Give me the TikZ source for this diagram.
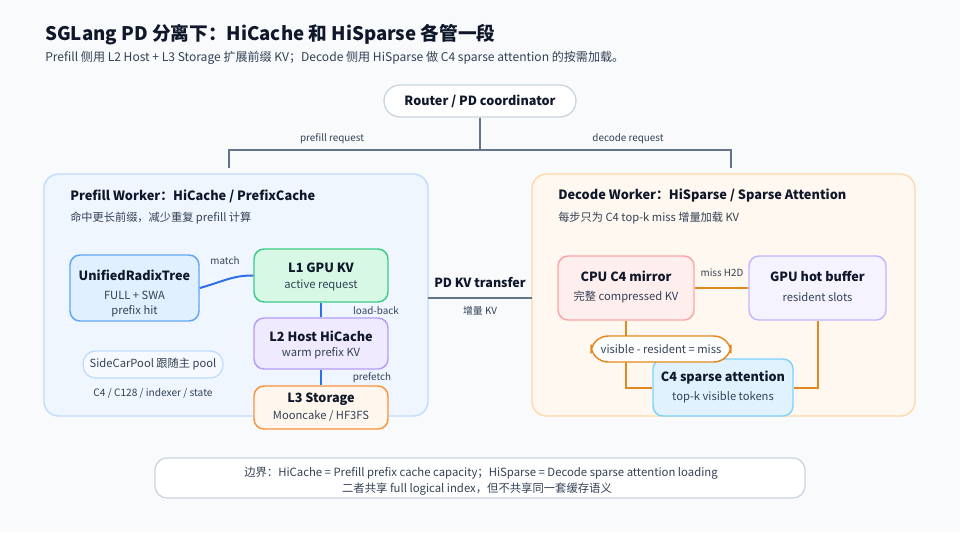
\documentclass[tikz,border=0pt]{standalone}
\usepackage{fontspec}
\setmainfont{Noto Sans CJK SC}
\usetikzlibrary{positioning,calc}
\definecolor{bg}{HTML}{F8FAFC}
\definecolor{ink}{HTML}{0F172A}
\definecolor{subink}{HTML}{334155}
\definecolor{gline}{HTML}{64748B}
\definecolor{bline}{HTML}{2F6FEB}
\definecolor{oline}{HTML}{E3881C}
\definecolor{slateb}{HTML}{CBD5E1}
\tikzset{
  box/.style={draw, rounded corners=7.5pt, line width=1.1pt, align=center, inner sep=0pt},
  panel/.style={draw, rounded corners=11pt, line width=1pt},
  pill/.style={draw, rounded corners=10pt, line width=1pt, align=center, inner sep=0pt},
  ttl/.style={font=\bfseries\fontsize{9.5}{12}\selectfont, text=ink},
  sub/.style={font=\fontsize{8.4}{11}\selectfont, text=subink},
  lbl/.style={font=\fontsize{7.4}{9}\selectfont, text=subink},
  conn/.style={line width=1.5pt},
}
\begin{document}
\begin{tikzpicture}[x=0.75pt,y=-0.75pt]
\fill[bg] (0,0) rectangle (960,532);
\useasboundingbox (0,0) rectangle (960,532);

% title
\node[anchor=west, font=\bfseries\fontsize{14}{16}\selectfont, text=ink, inner sep=0] (title) at (45,35) {SGLang PD 分离下：HiCache 和 HiSparse 各管一段};
\node[anchor=west, font=\fontsize{9.05}{11}\selectfont, text=subink, inner sep=0] (subtitle) at (45,58) {Prefill 侧用 L2 Host + L3 Storage 扩展前缀 KV；Decode 侧用 HiSparse 做 C4 sparse attention 的按需加载。};

% router
\node[pill, draw=slateb, fill=white, rounded corners=12pt, minimum width=192*0.75pt, minimum height=32*0.75pt, ttl] (router) at (480,101) {Router / PD coordinator};

% panels
\draw[panel, draw={rgb,255:red,191;green,219;blue,254}, fill={rgb,255:red,239;green,246;blue,255}] (44,174) rectangle (428,416);
\node[anchor=west, inner sep=0, font=\bfseries\fontsize{9.6}{12}\selectfont, text=ink] (pftitle) at (70,196) {Prefill Worker：HiCache / PrefixCache};
\node[anchor=west, inner sep=0, sub] (pfsub) at (70,218) {命中更长前缀，减少重复 prefill 计算};

\draw[panel, draw={rgb,255:red,254;green,215;blue,170}, fill={rgb,255:red,255;green,248;blue,240}] (532,174) rectangle (915,416);
\node[anchor=west, inner sep=0, font=\bfseries\fontsize{9.6}{12}\selectfont, text=ink] (dctitle) at (558,196) {Decode Worker：HiSparse / Sparse Attention};
\node[anchor=west, inner sep=0, sub] (dcsub) at (558,218) {每步只为 C4 top-k miss 增量加载 KV};

% router connectors
\coordinate (pfin) at (229,168);
\coordinate (dcin) at (731,168);
\draw[conn, gline] (router.south) -- ++(0,32) -| (pfin);
\draw[conn, gline] (router.south) -- ++(0,32) -| (dcin);
\node[lbl] (lpf) at (332,139) {prefill request};
\node[lbl] (ldc) at (628,139) {decode request};

% PD KV transfer
\coordinate (pfout) at (428,298);
\coordinate (dcinkv) at (532,298);
\draw[conn, gline] (pfout) -- (dcinkv);
\node[font=\bfseries\fontsize{9.4}{11}\selectfont, text=ink] (pdkv) at (480,282) {PD KV transfer};
\node[lbl] (pdkvsub) at (480,311) {增量 KV};

% prefill inner nodes
\node[box, draw={rgb,255:red,96;green,165;blue,250}, fill={rgb,255:red,224;green,240;blue,254}, minimum width=129*0.75pt, minimum height=66*0.75pt] (urt) at (134.5,288) {};
\node[ttl] at (134.5,275) {UnifiedRadixTree};
\node[sub] at (134.5,295) {FULL + SWA};
\node[sub] at (134.5,311) {prefix hit};

\node[box, draw={rgb,255:red,60;green,203;blue,134}, fill={rgb,255:red,214;green,248;blue,228}, minimum width=134*0.75pt, minimum height=53*0.75pt] (l1) at (321,275.5) {};
\node[ttl] at (321,268) {L1 GPU KV};
\node[sub] at (321,285.5) {active request};

\node[box, draw={rgb,255:red,180;green,158;blue,248}, fill={rgb,255:red,239;green,234;blue,254}, minimum width=134*0.75pt, minimum height=51*0.75pt] (l2) at (321,343.5) {};
\node[ttl] at (321,336) {L2 Host HiCache};
\node[sub] at (321,353.5) {warm prefix KV};

\node[box, draw={rgb,255:red,251;green,146;blue,60}, fill={rgb,255:red,255;green,247;blue,237}, minimum width=134*0.75pt, minimum height=43*0.75pt] (l3) at (321,407.5) {};
\node[ttl] at (321,399) {L3 Storage};
\node[sub] at (321,416.5) {Mooncake / HF3FS};

\node[pill, draw={rgb,255:red,191;green,219;blue,254}, fill={rgb,255:red,246;green,250;blue,255}, rounded corners=9.5pt, minimum width=140*0.75pt, minimum height=27*0.75pt, sub] (sidecar) at (153,364.5) {SideCarPool 跟随主 pool};
\node[lbl, font=\fontsize{7.6}{9}\selectfont] (sclbl) at (153,393) {C4 / C128 / indexer / state};

\draw[conn, bline] (urt.east) .. controls (225,281) and (232,275.5) .. (l1.west);
\node[lbl] at (225,261) {match};
\draw[conn, bline] (l1) -- (l2);
\node[lbl] at (376,311) {load-back};
\draw[conn, bline] (l2) -- (l3);
\node[lbl] at (372,378) {prefetch};

% decode inner nodes
\node[box, draw={rgb,255:red,252;green,165;blue,165}, fill={rgb,255:red,255;green,238;blue,238}, minimum width=136*0.75pt, minimum height=64*0.75pt] (cpu) at (626,288) {};
\node[ttl] at (626,276) {CPU C4 mirror};
\node[sub] at (626,297) {完整 compressed KV};

\node[box, draw={rgb,255:red,196;green,181;blue,253}, fill={rgb,255:red,245;green,243;blue,255}, minimum width=137*0.75pt, minimum height=64*0.75pt] (gpu) at (817.5,288) {};
\node[ttl] at (817.5,276) {GPU hot buffer};
\node[sub] at (817.5,297) {resident slots};

\node[box, draw={rgb,255:red,125;green,211;blue,252}, fill={rgb,255:red,224;green,242;blue,254}, minimum width=140*0.75pt, minimum height=57*0.75pt] (c4) at (723,387.5) {};
\node[ttl] at (723,378) {C4 sparse attention};
\node[sub] at (723,397) {top-k visible tokens};

\draw[conn, oline] (cpu) -- (gpu);
\node[lbl] at (722,273) {miss H2D};
\draw[conn, oline] (cpu.south) |- (c4.west);
\draw[conn, oline] (gpu.south) |- (c4.east);

\node[pill, draw=oline, fill=white, line width=1.1pt, rounded corners=13pt, minimum width=140*0.75pt, minimum height=26*0.75pt, sub] (miss) at (661,349) {visible - resident = miss};

% bottom note
\node[box, draw=slateb, fill=white, rounded corners=9pt, line width=1pt, minimum width=650*0.75pt, minimum height=40*0.75pt] (note) at (480,478) {};
\node[font=\fontsize{8.5}{11}\selectfont, text=subink] at (481,473) {边界：HiCache = Prefill prefix cache capacity；HiSparse = Decode sparse attention loading};
\node[font=\fontsize{8.5}{11}\selectfont, text=subink] at (477,489) {二者共享 full logical index，但不共享同一套缓存语义};
\end{tikzpicture}
\end{document}
